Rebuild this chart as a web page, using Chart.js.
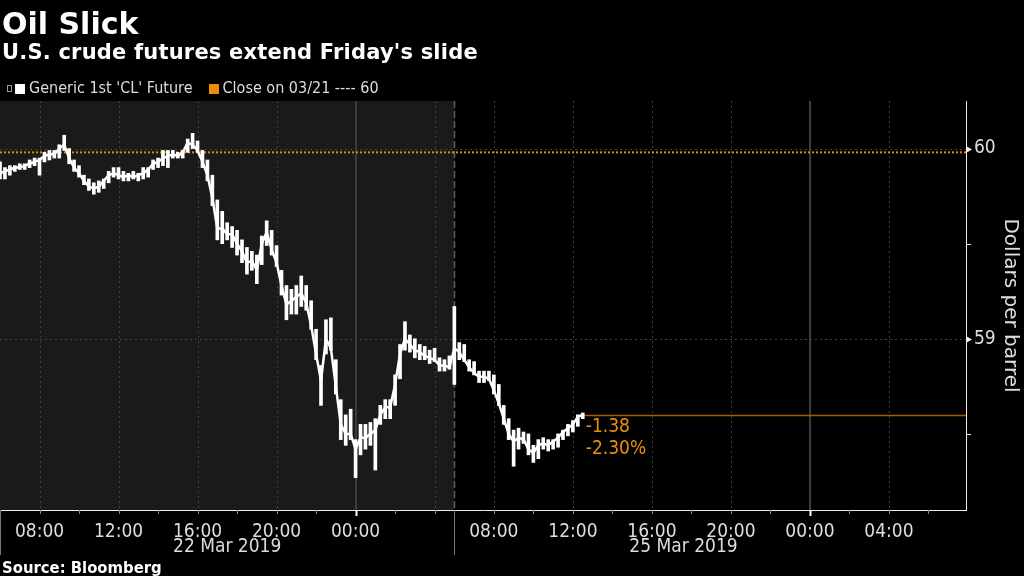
<!DOCTYPE html>
<html lang="en">
<head>
    <meta charset="UTF-8">
    <title>Oil Slick</title>
    <script src="https://cdn.jsdelivr.net/npm/chart.js"></script>
    <style>
        body { margin: 0; background: #000; }
        #wrap { position: relative; width: 1024px; height: 576px; overflow: hidden; background: #000; }
        #wrap canvas { position: absolute; left: 0; top: 0; }
        .txt { position: absolute; left: 2px; color: #fff; white-space: nowrap; line-height: 1; }
        #title { top: 6px; font: bold 30px "DejaVu Sans", sans-serif; }
        #subtitle { top: 40px; font: bold 21px "DejaVu Sans", sans-serif; letter-spacing: 0.2px; }
        #legend { top: 78px; left: 7px; font: 16px "DejaVu Sans Condensed", "DejaVu Sans", sans-serif; color: #ddd; }
        #legend .sq { display: inline-block; width: 10px; height: 10px; margin-right: 4px; vertical-align: -1px; }
        #legend .ico { display: inline-block; width: 3px; height: 5px; border: 1px solid #999; margin-right: 3px; vertical-align: 1px; position: relative; }
        #source { top: 558px; font: bold 16.5px "DejaVu Sans Condensed", "DejaVu Sans", sans-serif; }
    </style>
</head>
<body>
<div id="wrap">
    <canvas id="oilChart" width="1024" height="576"></canvas>
    <div class="txt" id="title">Oil Slick</div>
    <div class="txt" id="subtitle">U.S. crude futures extend Friday's slide</div>
    <div class="txt" id="legend"><span class="ico"></span><span class="sq" style="background:#fff"></span>Generic 1st 'CL' Future<span style="display:inline-block;width:16px"></span><span class="sq" style="background:#f08c00"></span>Close on 03/21 ---- 60</div>
    <div class="txt" id="source">Source: Bloomberg</div>
</div>
<script>
    // x values are trading hours from 22 Mar 06:00 (weekend removed, 25 Mar 06:00 = 23)
    var barStep = 0.25;
    var fridayStart = 0;
    var mondayStart = 23;

    // 15 minute bars (USD): low, high, close
    var fridayLow = [59.84,59.84,59.86,59.88,59.89,59.89,59.90,59.91,59.86,59.93,
        59.94,59.95,59.95,59.99,59.92,59.88,59.85,59.81,59.78,59.76,
        59.77,59.79,59.82,59.85,59.84,59.83,59.83,59.84,59.83,59.84,
        59.85,59.89,59.90,59.91,59.90,59.95,59.95,59.95,59.98,60.00,
        59.98,59.90,59.83,59.70,59.52,59.50,59.52,59.48,59.44,59.40,
        59.34,59.36,59.29,59.39,59.49,59.44,59.38,59.23,59.10,59.13,
        59.13,59.17,59.15,59.05,58.89,58.65,58.92,58.94,58.71,58.47,
        58.44,58.47,58.27,58.39,58.42,58.44,58.31,58.55,58.58,58.58,
        58.65,58.79,58.94,58.93,58.90,58.89,58.89,58.87,58.88,58.83,
        58.83,58.84];
    var fridayHigh = [59.93,59.90,59.91,59.91,59.92,59.92,59.94,59.95,59.95,59.98,
        59.99,59.99,60.02,60.07,60.00,59.94,59.91,59.86,59.84,59.82,
        59.83,59.84,59.88,59.90,59.90,59.88,59.87,59.88,59.87,59.90,
        59.90,59.94,59.95,59.99,59.99,59.99,59.98,59.99,60.05,60.08,
        60.04,59.99,59.94,59.86,59.73,59.67,59.61,59.59,59.57,59.52,
        59.48,59.46,59.44,59.54,59.62,59.57,59.49,59.36,59.28,59.26,
        59.28,59.33,59.28,59.20,59.05,58.86,59.10,59.11,58.89,58.68,
        58.60,58.63,58.47,58.55,58.55,58.56,58.58,58.65,58.68,58.68,
        58.81,58.97,59.09,59.02,59.00,58.97,58.96,58.94,58.95,58.90,
        58.89,58.91];
    var fridayClose = [59.87,59.88,59.89,59.90,59.90,59.91,59.92,59.93,59.94,59.96,
        59.97,59.97,60.00,60.02,59.95,59.90,59.87,59.83,59.80,59.79,
        59.80,59.83,59.86,59.87,59.86,59.85,59.86,59.85,59.86,59.87,
        59.89,59.92,59.93,59.95,59.96,59.97,59.96,59.98,60.03,60.02,
        59.99,59.93,59.86,59.74,59.58,59.58,59.55,59.55,59.50,59.46,
        59.40,59.41,59.36,59.50,59.56,59.47,59.40,59.28,59.18,59.20,
        59.22,59.24,59.19,59.07,58.92,58.78,59.00,58.95,58.75,58.55,
        58.50,58.50,58.42,58.48,58.48,58.50,58.52,58.60,58.64,58.64,
        58.76,58.92,59.00,58.97,58.94,58.93,58.91,58.90,58.89,58.86,
        58.86,58.85];
    var mondayLow = [58.76,58.89,58.88,58.83,58.81,58.77,58.77,58.78,58.71,58.65,
        58.55,58.47,58.33,58.42,58.45,58.39,58.35,58.37,58.42,58.41,
        58.42,58.43,58.47,58.49,58.51,58.54,58.58];
    var mondayHigh = [59.17,58.98,58.97,58.89,58.88,58.83,58.83,58.83,58.81,58.76,
        58.65,58.58,58.52,58.53,58.51,58.50,58.44,58.47,58.48,58.47,
        58.47,58.50,58.52,58.55,58.57,58.60,58.61];
    var mondayClose = [58.95,58.93,58.89,58.85,58.82,58.80,58.80,58.79,58.73,58.66,
        58.58,58.50,58.46,58.48,58.47,58.42,58.40,58.44,58.45,58.44,
        58.46,58.48,58.51,58.53,58.55,58.59,58.60];

    var prevClose = 59.98;
    var lastPrice = 58.60;

    var minorTicks = [2,4,6,8,10,12,14,16,18,20,22,25,27,29,31,33,35,37,39,41,43,45,47];
    var labelTicks = [2,6,10,14,18,25,29,33,37,41,45];
    var tickLabels = ['08:00','12:00','16:00','20:00','00:00','08:00','12:00','16:00','20:00','00:00','04:00'];
    var gridHours = [2,6,10,14,22,25,29,33,37,45];
    var midnightHours = [18,41];
    var dateLabels = ['22 Mar 2019','25 Mar 2019'];
    var dateCenters = [11.5,34.6];
    var yTicks = [58.5,59,59.5,60];
    var yLabelled = [59,60];

    var condensed = '"DejaVu Sans Condensed", "DejaVu Sans", sans-serif';

    var bars = [], closes = [];
    fridayLow.forEach(function(lo, i) {
        bars.push({x: fridayStart + i * barStep, y: [lo, fridayHigh[i]]});
        closes.push({x: fridayStart + i * barStep, y: fridayClose[i]});
    });
    mondayLow.forEach(function(lo, i) {
        bars.push({x: mondayStart + i * barStep, y: [lo, mondayHigh[i]]});
        closes.push({x: mondayStart + i * barStep, y: mondayClose[i]});
    });
    var lastHour = bars[bars.length - 1].x;

    function vline(ctx, x, y0, y1, color, width, dash) {
        ctx.save();
        ctx.strokeStyle = color;
        ctx.lineWidth = width;
        ctx.setLineDash(dash || []);
        ctx.beginPath();
        ctx.moveTo(x, y0);
        ctx.lineTo(x, y1);
        ctx.stroke();
        ctx.restore();
    }
    function hline(ctx, y, x0, x1, color, width, dash) {
        ctx.save();
        ctx.strokeStyle = color;
        ctx.lineWidth = width;
        ctx.setLineDash(dash || []);
        ctx.beginPath();
        ctx.moveTo(x0, y);
        ctx.lineTo(x1, y);
        ctx.stroke();
        ctx.restore();
    }

    var decor = {
        id: 'decor',
        beforeDraw: function(chart) {
            var ctx = chart.ctx, a = chart.chartArea, xs = chart.scales.x;
            ctx.save();
            ctx.fillStyle = '#000';
            ctx.fillRect(0, 0, chart.width, chart.height);
            ctx.fillStyle = '#1a1a1a';
            ctx.fillRect(a.left, a.top, xs.getPixelForValue(mondayStart) - a.left, a.bottom - a.top);
            ctx.restore();
        },
        beforeDatasetsDraw: function(chart) {
            var ctx = chart.ctx, a = chart.chartArea, xs = chart.scales.x, ys = chart.scales.y;
            gridHours.forEach(function(h) {
                vline(ctx, Math.round(xs.getPixelForValue(h)) + 0.5, a.top, a.bottom, '#3e3e3e', 1, [2, 3]);
            });
            midnightHours.forEach(function(h) {
                vline(ctx, Math.round(xs.getPixelForValue(h)), a.top, a.bottom, '#3c3c3c', 2);
            });
            vline(ctx, Math.round(xs.getPixelForValue(mondayStart)) + 0.5, a.top, a.bottom, '#5e5e5e', 1.5, [7, 3]);
            yLabelled.forEach(function(v) {
                hline(ctx, Math.round(ys.getPixelForValue(v)) + 0.5, a.left, a.right, '#444', 1, [2, 3]);
            });
            // previous close
            hline(ctx, ys.getPixelForValue(prevClose), a.left, a.right, '#e08c00', 2, [2, 2]);
            // last price
            hline(ctx, Math.round(ys.getPixelForValue(lastPrice)) + 0.5, xs.getPixelForValue(lastHour), a.right, '#a35e00', 1.5);
        },
        afterDatasetsDraw: function(chart) {
            var ctx = chart.ctx, a = chart.chartArea, xs = chart.scales.x, ys = chart.scales.y;
            // axis lines
            hline(ctx, a.bottom + 0.5, a.left, a.right + 1, '#eee', 1);
            vline(ctx, a.right + 0.5, a.top, a.bottom + 1, '#eee', 1);
            // x tick marks
            minorTicks.forEach(function(h) {
                var px = Math.round(xs.getPixelForValue(h)) + 0.5;
                var mid = midnightHours.indexOf(h) >= 0;
                vline(ctx, px, a.bottom, a.bottom + (mid ? 6 : 4), mid ? '#fff' : '#888', mid ? 2 : 1);
            });
            // separators under the axis
            vline(ctx, a.left + 0.5, a.bottom, a.bottom + 45, '#777', 1);
            vline(ctx, Math.round(xs.getPixelForValue(mondayStart)) + 0.5, a.bottom, a.bottom + 45, '#777', 1);
            // y tick marks
            ctx.save();
            ctx.fillStyle = '#eee';
            yTicks.forEach(function(v) {
                var py = Math.round(ys.getPixelForValue(v)) + 0.5;
                if (yLabelled.indexOf(v) >= 0) {
                    ctx.beginPath();
                    ctx.moveTo(a.right, py - 3.5);
                    ctx.lineTo(a.right + 6, py);
                    ctx.lineTo(a.right, py + 3.5);
                    ctx.closePath();
                    ctx.fill();
                } else {
                    hline(ctx, py, a.right, a.right + 5, '#eee', 1);
                }
            });
            // date labels
            ctx.fillStyle = '#ddd';
            ctx.font = '19px ' + condensed;
            ctx.textAlign = 'center';
            ctx.textBaseline = 'alphabetic';
            dateLabels.forEach(function(t, i) {
                ctx.fillText(t, xs.getPixelForValue(dateCenters[i]), a.bottom + 42);
            });
            // change labels
            var chg = lastPrice - prevClose;
            var lx = xs.getPixelForValue(lastHour) + 3;
            var ly = ys.getPixelForValue(lastPrice);
            ctx.fillStyle = '#ea900a';
            ctx.textAlign = 'left';
            ctx.textBaseline = 'middle';
            ctx.font = '19px ' + condensed;
            ctx.fillText(chg.toFixed(2), lx, ly + 12);
            ctx.fillText((chg / prevClose * 100).toFixed(2) + '%', lx, ly + 34);
            ctx.restore();
        }
    };

    var ctx = document.getElementById('oilChart').getContext('2d');
    var oilChart = new Chart(ctx, {
        type: 'bar',
        data: {
            datasets: [{
                type: 'line',
                label: 'close',
                data: closes,
                borderColor: '#ffffff',
                borderWidth: 2.5,
                pointRadius: 0,
                tension: 0
            }, {
                label: "Generic 1st 'CL' Future",
                data: bars,
                backgroundColor: '#ffffff',
                borderWidth: 0,
                barThickness: 3
            }]
        },
        options: {
            responsive: false,
            animation: false,
            layout: { padding: { top: 101, left: 0, right: 0, bottom: 0 } },
            plugins: { legend: { display: false }, tooltip: { enabled: false } },
            scales: {
                x: {
                    type: 'linear',
                    min: 0,
                    max: 48.9,
                    offset: false,
                    afterBuildTicks: function(s) {
                        s.ticks = labelTicks.map(function(v) { return {value: v}; });
                    },
                    afterFit: function(s) { s.height = 66; },
                    ticks: {
                        autoSkip: false,
                        maxRotation: 0,
                        padding: 3,
                        color: '#ddd',
                        font: { family: condensed, size: 19 },
                        callback: function(v) {
                            var i = labelTicks.indexOf(v);
                            return i >= 0 ? tickLabels[i] : '';
                        }
                    },
                    grid: { display: false },
                    border: { display: false }
                },
                y: {
                    position: 'right',
                    min: 58.1,
                    max: 60.25,
                    afterBuildTicks: function(s) {
                        s.ticks = yTicks.map(function(v) { return {value: v}; });
                    },
                    afterFit: function(s) { s.width = 58; },
                    ticks: {
                        padding: 0,
                        color: '#ddd',
                        font: { family: condensed, size: 19 },
                        callback: function(v) {
                            return yLabelled.indexOf(v) >= 0 ? String(v) : '';
                        }
                    },
                    grid: { display: false },
                    border: { display: false },
                    title: {
                        display: true,
                        text: 'Dollars per barrel',
                        color: '#ddd',
                        font: { family: '"DejaVu Sans", sans-serif', size: 20 },
                        padding: { top: 2, bottom: 2 }
                    }
                }
            }
        },
        plugins: [decor]
    });
</script>
</body>
</html>
